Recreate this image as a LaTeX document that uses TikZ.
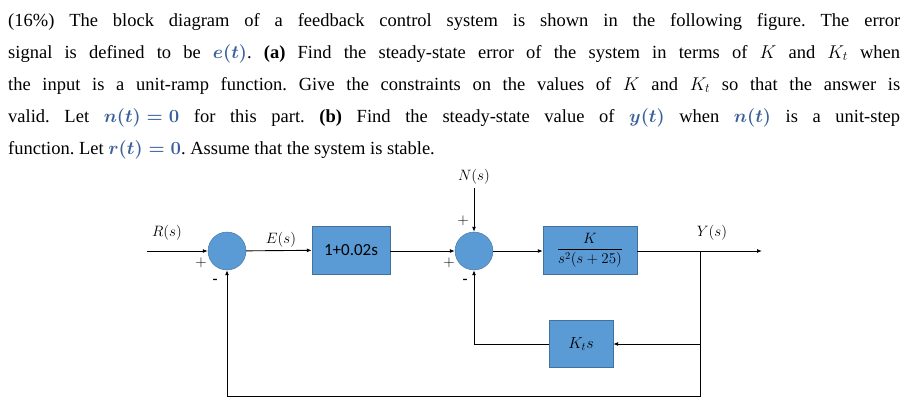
\RequirePackage{fix-cm}
\documentclass[tikz,border=0pt]{standalone}
\usepackage{amsmath}
\usepackage{fontspec}
\setmainfont{Liberation Serif}
\newfontfamily\calib{Carlito}
\usetikzlibrary{arrows.meta}
\definecolor{boxblue}{HTML}{5B9BD5}
\definecolor{boxedge}{HTML}{41719C}
\definecolor{mblue}{HTML}{3A5F9A}
\newcommand{\mb}[1]{\textcolor{mblue}{$\boldsymbol{#1}$}}
\begin{document}
\frenchspacing
\begin{tikzpicture}[x=1pt,y=-1pt,
  blk/.style={draw=boxedge,fill=boxblue,minimum width=#1,minimum height=48pt,inner sep=0pt},
  sumc/.style={circle,draw=boxedge,fill=boxblue,minimum size=38pt,inner sep=0pt},
  arr/.style={-{Latex[length=5pt,width=4pt]},line width=0.9pt},
  txt/.style={anchor=base west,inner sep=0pt,font=\fontsize{18.5}{22}\selectfont},
  lab/.style={font=\fontsize{15}{17}\selectfont,inner sep=0pt}]
\useasboundingbox (0,0) rectangle (916,416);
\node[txt] (l1) at (8,26) {\makebox[892pt][s]{(16\%) The block diagram of a feedback control system is shown in the following figure. The error}};
\node[txt] (l2) at (8,58) {\makebox[892pt][s]{signal is defined to be \mb{e(t)}. \textbf{(a)} Find the steady-state error of the system in terms of $K$ and $K_t$ when}};
\node[txt] (l3) at (8,90) {\makebox[892pt][s]{the input is a unit-ramp function. Give the constraints on the values of $K$ and $K_t$ so that the answer is}};
\node[txt] (l4) at (8,122) {\makebox[892pt][s]{valid. Let \mb{n(t)=0} for this part. \textbf{(b)} Find the steady-state value of \mb{y(t)} when \mb{n(t)} is a unit-step}};
\node[txt] (l5) at (8,154) {function. Let \mb{r(t)=0}. Assume that the system is stable.};

\node[sumc] (s1) at (227,251) {};
\node[sumc] (s2) at (474,251) {};
\node[blk=78pt,font=\calib\fontsize{17}{19}\selectfont] (g1) at (351,250) {1+0.02s};
\node[blk=94pt,font=\fontsize{15}{17}\selectfont] (g2) at (590,250) {$\dfrac{K}{s^2(s+25)}$};
\node[blk=64pt,minimum height=47pt,font=\fontsize{16}{18}\selectfont] (h) at (581,344) {$K_ts$};
\coordinate (in) at (147,251);
\coordinate (br) at (700,251);
\coordinate (out) at (762,251);
\coordinate (ntop) at (474,188);
\coordinate (bot) at (700,396);
\draw[arr] (in) -- (s1);
\draw[arr] (s1) -- (g1);
\draw[arr] (g1.east |- s2) -- (s2);
\draw[arr] (s2) -- (g2.west |- s2);
\draw[arr] (g2.east |- br) -- (out);
\draw[arr] (ntop) -- (s2);
\draw[arr] (br) |- (h.east);
\draw[arr] (h.west) -| (s2.south);
\draw[arr] (br) |- (bot) -| (s1.south);
\node[lab] (N) at (474,177) {$N(s)$};
\node[lab] (R) at (167,233) {$R(s)$};
\node[lab] (E) at (281,240) {$E(s)$};
\node[lab] (Y) at (712,233) {$Y(s)$};
\node[lab] (p1) at (201,263) {$+$};
\node[lab] (m1) at (215,281) {\textbf{-}};
\node[lab] (p2) at (449,263) {$+$};
\node[lab] (p3) at (463,221) {$+$};
\node[lab] (m2) at (465,281) {\textbf{-}};
\end{tikzpicture}
\end{document}
